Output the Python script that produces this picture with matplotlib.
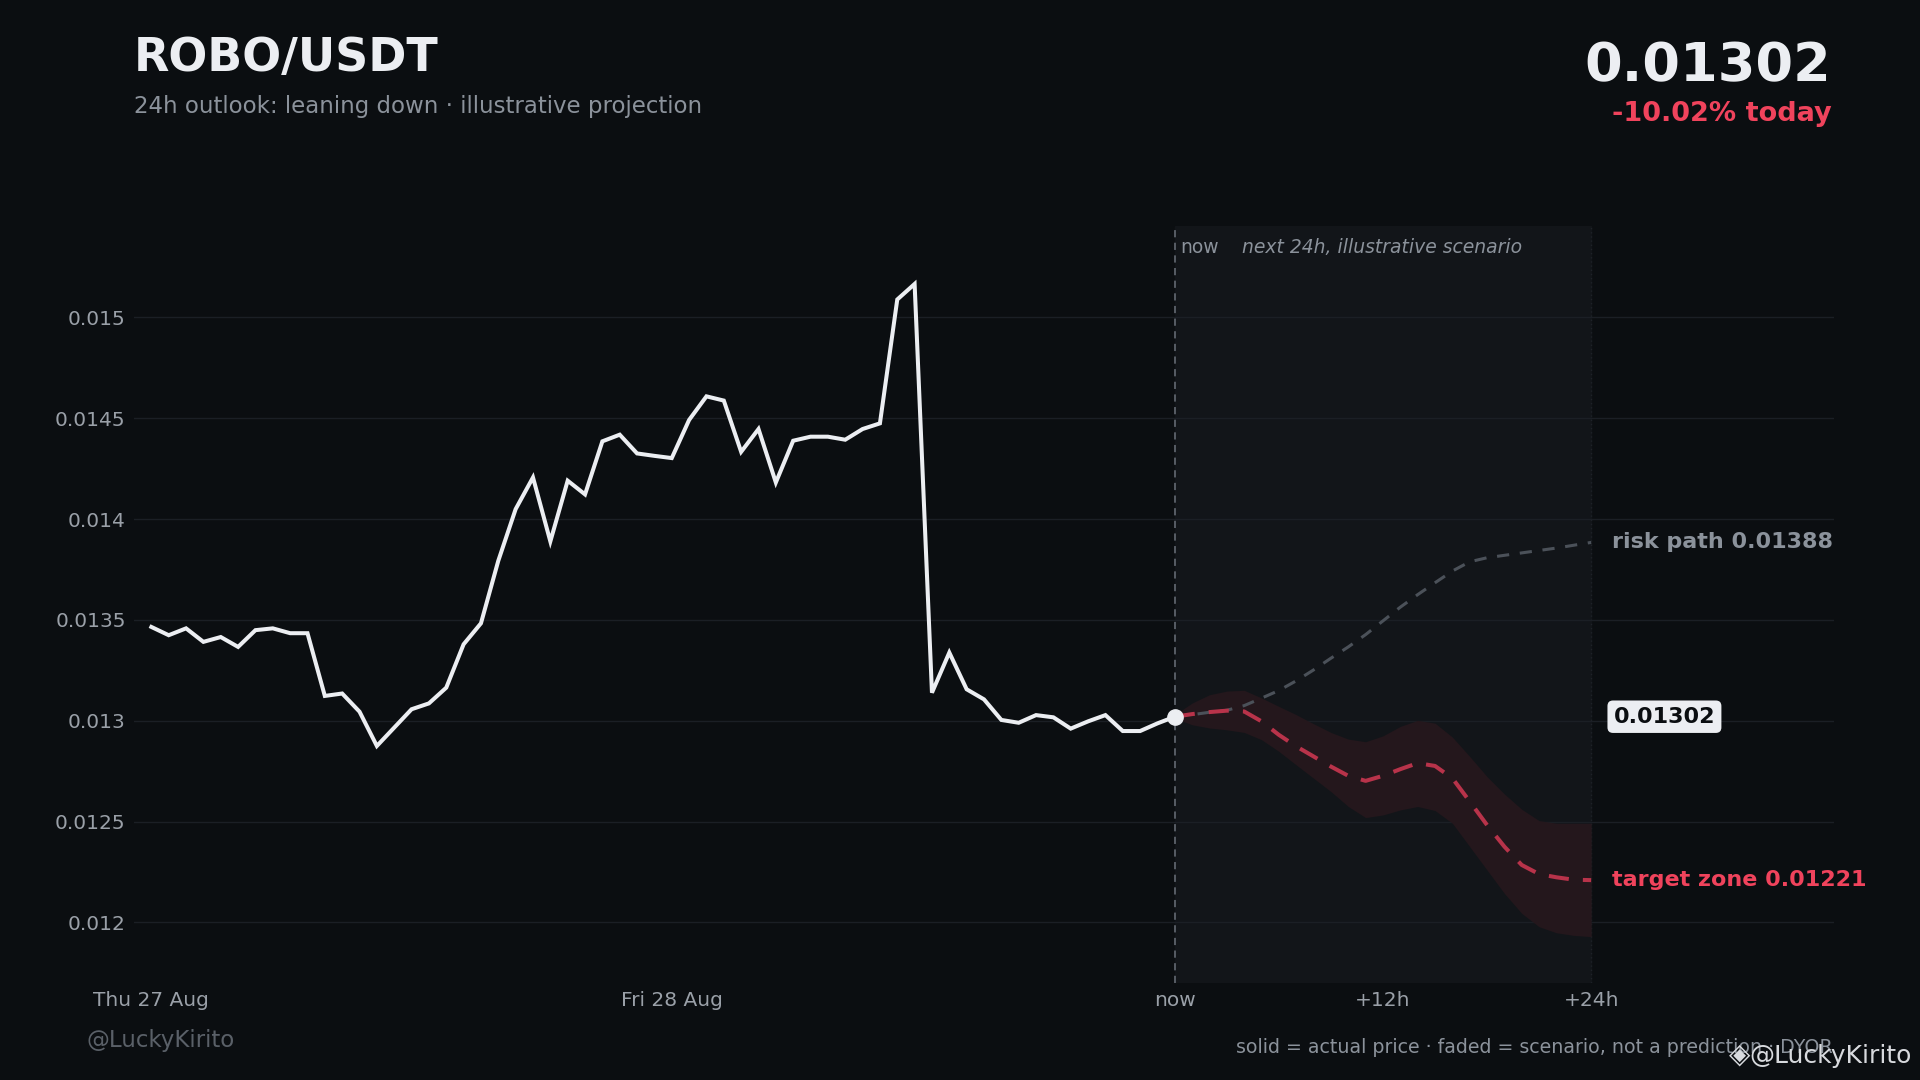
import numpy as np
import matplotlib
matplotlib.use("Agg")
import matplotlib.pyplot as plt

# hourly closes, last 60 hours up to "now"
history_price = [
    0.013465, 0.013424, 0.013458, 0.013391, 0.013415, 0.013366, 0.013449, 0.013458,
    0.013434, 0.013434, 0.013123, 0.013135, 0.013045, 0.012875, 0.012966, 0.013057,
    0.013086, 0.013164, 0.013379, 0.013483, 0.013793, 0.014049, 0.014206, 0.013889,
    0.014190, 0.014122, 0.014385, 0.014418, 0.014325, 0.014313, 0.014302, 0.014491,
    0.014608, 0.014587, 0.014333, 0.014446, 0.014181, 0.014388, 0.014408, 0.014408,
    0.014393, 0.014446, 0.014474, 0.015088, 0.015165, 0.013139, 0.013338, 0.013156,
    0.013106, 0.013004, 0.012990, 0.013028, 0.013017, 0.012961, 0.012997, 0.013028,
    0.012949, 0.012949, 0.012987, 0.013020,
]

# next 24h scenario, hourly
target_path = [
    0.013020, 0.013033, 0.013043, 0.013050, 0.013046, 0.012997, 0.012930, 0.012873,
    0.012823, 0.012773, 0.012727, 0.012702, 0.012727, 0.012760, 0.012790, 0.012776,
    0.012715, 0.012600, 0.012483, 0.012376, 0.012285, 0.012240, 0.012224, 0.012212,
    0.012210,
]
band_upper = [
    0.013030, 0.013088, 0.013129, 0.013147, 0.013151, 0.013113, 0.013071, 0.013030,
    0.012985, 0.012942, 0.012909, 0.012896, 0.012925, 0.012972, 0.013002, 0.012988,
    0.012919, 0.012823, 0.012723, 0.012637, 0.012561, 0.012505, 0.012492, 0.012492,
    0.012492,
]
band_lower = [
    0.013013, 0.012980, 0.012964, 0.012955, 0.012942, 0.012906, 0.012848, 0.012781,
    0.012715, 0.012649, 0.012575, 0.012520, 0.012533, 0.012558, 0.012575, 0.012555,
    0.012492, 0.012376, 0.012260, 0.012144, 0.012045, 0.011979, 0.011949, 0.011936,
    0.011930,
]
risk_path = [
    0.013020, 0.013030, 0.013042, 0.013052, 0.013075, 0.013112, 0.013150, 0.013198,
    0.013252, 0.013310, 0.013366, 0.013427, 0.013495, 0.013563, 0.013625, 0.013684,
    0.013742, 0.013788, 0.013808, 0.013820, 0.013832, 0.013844, 0.013856, 0.013870,
    0.013884,
]

x_tick_pos = [-59, -29, 0, 12, 24]
x_tick_labels = ["Thu 27 Aug", "Fri 28 Aug", "now", "+12h", "+24h"]
y_ticks = [0.012, 0.0125, 0.013, 0.0135, 0.014, 0.0145, 0.015]
y_tick_labels = ["0.012", "0.0125", "0.013", "0.0135", "0.014", "0.0145", "0.015"]

last_price = 0.01302
change_today = -10.02

# colours
bg = "#0b0e11"
panel = "#121519"
grid_c = "#1b1f25"
txt = "#eceef2"
muted = "#8b929b"
red = "#f0435c"
red_line = "#b8334a"
band_c = "#24171c"
risk_c = "#4b5159"

plt.rcParams["font.family"] = ["DejaVu Sans"]

fig = plt.figure(figsize=(19.2, 10.8), dpi=100, facecolor=bg)
ax = fig.add_axes([0.0698, 0.0898, 0.8854, 0.7005], facecolor=bg)

hist_x = np.arange(-len(history_price) + 1, 1)
proj_x = np.arange(len(target_path))

# scenario panel and "now" marker line
ax.axvspan(0, 24, color=panel, zorder=0)
ax.axvline(24, color="#1e2228", lw=1, ls=(0, (1, 2)), zorder=0.5)
ax.axvline(0, color="#5d636b", lw=1.3, ls=(0, (4, 3)), zorder=2)

ax.fill_between(proj_x, band_lower, band_upper, color=band_c, lw=0, zorder=1)
ax.plot(proj_x, risk_path, color=risk_c, lw=2.2, ls=(0, (4, 3.5)), zorder=3)
ax.plot(proj_x, target_path, color=red_line, lw=2.9, ls=(0, (5, 3.5)), zorder=4)
ax.plot(hist_x, history_price, color="#eceef2", lw=2.9, solid_joinstyle="miter", zorder=5)
ax.plot([0], [history_price[-1]], "o", color="#eceef2", ms=11, zorder=6)

ax.set_xlim(-60, 38)
ax.set_ylim(0.0117, 0.01545)
ax.set_yticks(y_ticks)
ax.set_yticklabels(y_tick_labels)
ax.set_xticks(x_tick_pos)
ax.set_xticklabels(x_tick_labels)
ax.tick_params(axis="both", length=0, colors="#9aa0a8", labelsize=14.5)
ax.tick_params(axis="x", pad=6)
ax.tick_params(axis="y", pad=6)
ax.grid(axis="y", color=grid_c, lw=1)
ax.set_axisbelow(True)
for s in ax.spines.values():
    s.set_visible(False)

# annotations inside the plot
ax.text(0.3, 0.015318, "now", color=muted, fontsize=13.5, va="baseline")
ax.text(3.9, 0.015318, "next 24h, illustrative scenario", color=muted,
        fontsize=13.5, style="italic", va="baseline")
ax.text(25.2, risk_path[-1], f"risk path {risk_path[-1]:.5f}", color=muted,
        fontsize=16, fontweight="bold", va="center")
ax.text(25.3, last_price, f"{last_price:.5f}", color=bg, fontsize=16,
        fontweight="bold", va="center",
        bbox=dict(boxstyle="round,pad=0.28,rounding_size=0.25", fc="#eceef2", ec="none"))
ax.text(25.2, target_path[-1], f"target zone {target_path[-1]:.5f}", color=red,
        fontsize=16, fontweight="bold", va="center")

# header
fig.text(0.0698, 0.9345, "ROBO/USDT", color=txt, fontsize=33, fontweight="bold", va="baseline")
fig.text(0.0698, 0.8951, "24h outlook: leaning down · illustrative projection",
         color=muted, fontsize=16.5, va="baseline")
fig.text(0.9537, 0.9244, f"{last_price:.5f}", color=txt, fontsize=39,
         fontweight="bold", ha="right", va="baseline")
fig.text(0.9542, 0.8882, f"{change_today:.2f}% today", color=red, fontsize=19.5,
         fontweight="bold", ha="right", va="baseline")

# footer
fig.text(0.0448, 0.0306, "@LuckyKirito", color="#5a6068", fontsize=16.5, va="baseline")
fig.text(0.9547, 0.0250, "solid = actual price · faded = scenario, not a prediction · DYOR",
         color=muted, fontsize=13.7, ha="right", va="baseline")
fig.text(0.9005, 0.0160, "◈", color="#d8dade", fontsize=20, va="baseline")
fig.text(0.9955, 0.0160, "@LuckyKirito", color="#d8dade", fontsize=18, ha="right", va="baseline")

fig.savefig("out.png", dpi=100, facecolor=bg)
plt.close(fig)
